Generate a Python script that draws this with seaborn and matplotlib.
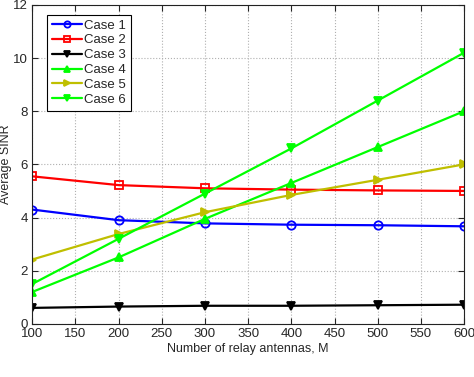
import numpy as np
import pandas as pd
import seaborn as sns
import matplotlib
matplotlib.use("Agg")
import matplotlib.pyplot as plt

antennas = [100, 200, 300, 400, 500, 600]
case1 = [4.3, 3.9, 3.78, 3.73, 3.71, 3.67]
case2 = [5.55, 5.22, 5.1, 5.05, 5.02, 5.0]
case3 = [0.6, 0.65, 0.68, 0.68, 0.7, 0.72]
case4 = [1.2, 2.5, 3.95, 5.3, 6.65, 8.0]
case5 = [2.42, 3.38, 4.2, 4.85, 5.42, 6.0]
case6 = [1.5, 3.2, 4.9, 6.6, 8.4, 10.2]

names = ["Case 1", "Case 2", "Case 3", "Case 4", "Case 5", "Case 6"]
series = [case1, case2, case3, case4, case5, case6]

rows = []
for n, s in zip(names, series):
    for m, v in zip(antennas, s):
        rows.append({"M": m, "SINR": v, "case": n})
df = pd.DataFrame(rows)

sns.set_style("ticks")
plt.rcParams["font.family"] = ["Liberation Sans", "DejaVu Sans"]

colors = {"Case 1": "#0000ff", "Case 2": "#ff0000", "Case 3": "#000000",
          "Case 4": "#00ff00", "Case 5": "#bfbf00", "Case 6": "#00ff00"}
markers = {"Case 1": "o", "Case 2": "s", "Case 3": "v",
           "Case 4": "^", "Case 5": ">", "Case 6": "v"}

fig = plt.figure(figsize=(4.74, 3.77), dpi=100)
ax = fig.add_axes([0.068, 0.141, 0.911, 0.846])

for n in names:
    sub = df[df["case"] == n]
    mfc = "none" if n in ("Case 1", "Case 2") else colors[n]
    sns.lineplot(data=sub, x="M", y="SINR", ax=ax, color=colors[n], marker=markers[n],
                 markersize=6, linewidth=1.6, markerfacecolor=mfc,
                 markeredgecolor=colors[n], markeredgewidth=1.3, label=n)

ax.set_xlim(100, 600)
ax.set_ylim(0, 12)
ax.set_xticks(range(100, 601, 50))
ax.set_yticks(range(0, 13, 2))
ax.grid(True, linestyle=":", color="#b0b0b0", linewidth=0.8)
ax.tick_params(direction="in", labelsize=9.5, length=4, top=True, right=True, pad=3)
for sp in ax.spines.values():
    sp.set_linewidth(0.8)
    sp.set_color("#222222")
ax.set_xlabel("Number of relay antennas, M", fontsize=9, labelpad=2)
ax.set_ylabel("Average SINR", fontsize=9, labelpad=1)

leg = ax.legend(loc="upper left", bbox_to_anchor=(0.02, 0.99), fontsize=9.5,
                frameon=True, fancybox=False, edgecolor="black", framealpha=1,
                handlelength=2.3, handletextpad=0.15, borderpad=0.35,
                labelspacing=0.2, markerscale=0.75)
leg.get_frame().set_linewidth(0.8)

fig.savefig("out.png", dpi=100)
